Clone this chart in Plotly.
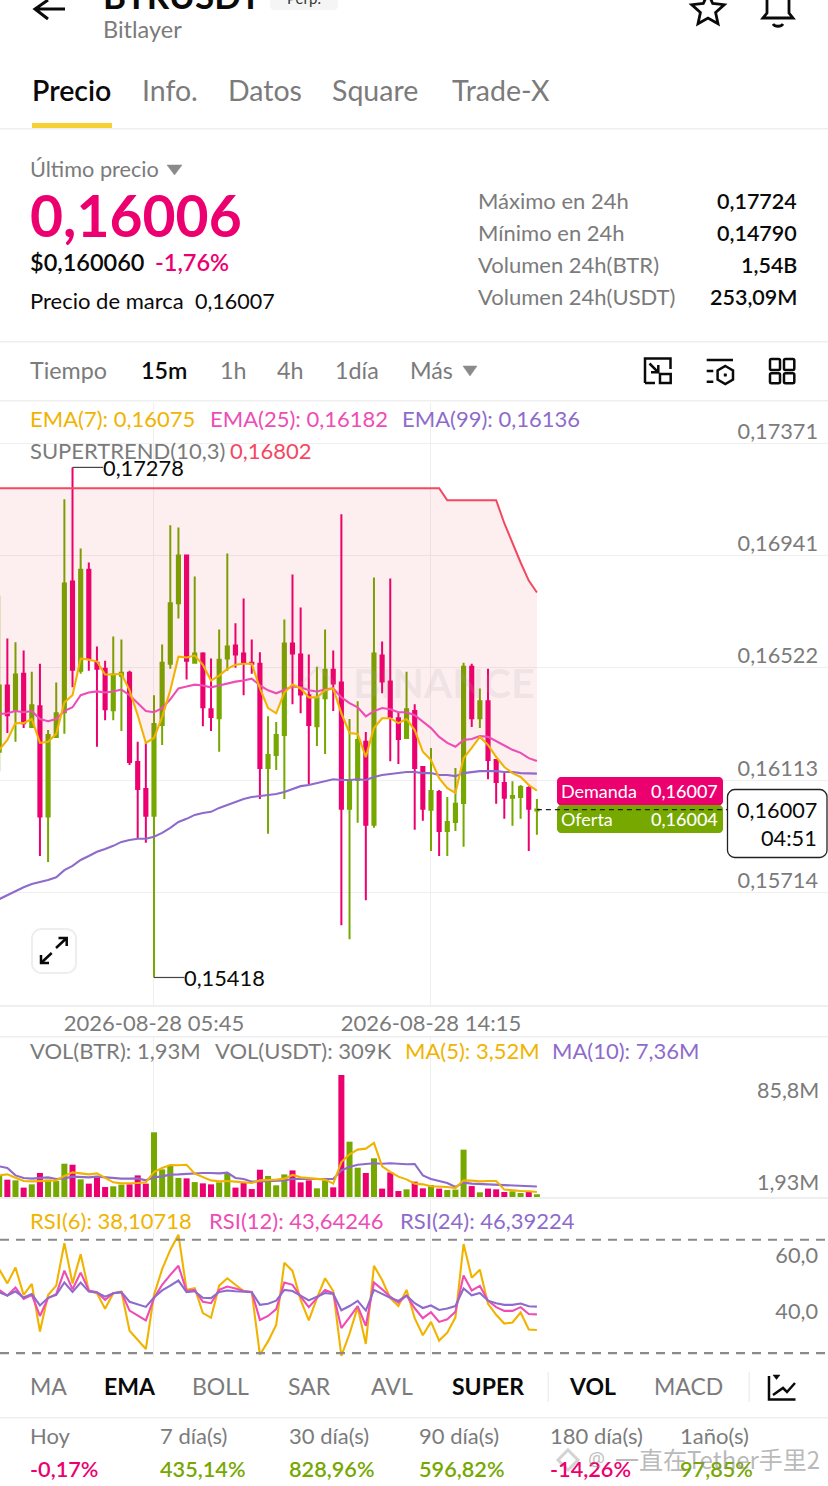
import re
import pandas as pd
import plotly.graph_objects as go

W, H = 828, 1486
FONT = "Lato"
PINK, GREEN = "#EC0070", "#76A800"
YEL, MAG, PUR = "#F0B400", "#EE4DB5", "#8E6BCB"
GRAY, BLK, RULE = "#7B7B7B", "#0A0A0A", "#EFEFEF"
RED = "#F5475F"

opens = [.16215,.16457,.16366,.16500,.16305,.16381,.15982,.16269,.16359,.16843,.16511,.16888,.16541,.16518,.16366,.16493,.16504,.16178,.16081,.15985,.16312,.16537,.16762,.16941,.16541,.16575,.16370,.16337,.16556,.16604,.16575,.16541,.16537,.16156,.16203,.16276,.16612,.16571,.16421,.16308,.16410,.16515,.16468,.16010,.16113,.16251,.15953,.16567,.16471,.16337,.16265,.16363,.16160,.16006,.16070,.15931,.15963,.16031,.16526,.16337,.16399,.16185,.16102,.16049,.16052,.16084,.16004]
highs = [.16791,.16630,.16616,.16586,.16507,.16537,.16294,.16468,.17156,.17278,.16968,.16915,.16601,.16548,.16638,.16627,.16511,.16251,.16247,.16421,.16608,.17056,.17048,.16945,.16862,.16579,.16556,.16664,.16949,.16687,.16780,.16627,.16579,.16344,.16323,.16701,.16870,.16746,.16571,.16526,.16664,.16586,.17098,.16334,.16399,.16287,.16858,.16619,.16855,.16359,.16507,.16388,.16163,.16229,.16077,.16052,.16156,.16541,.16537,.16446,.16518,.16185,.16138,.16109,.16095,.16091,.16045]
lows = [.16145,.16283,.16251,.16301,.16301,.15842,.15821,.16265,.16280,.16450,.16500,.16511,.16233,.16330,.16330,.16290,.16167,.15903,.15889,.15418,.16240,.16518,.16705,.16479,.16537,.16308,.16290,.16215,.16511,.16522,.16421,.16500,.16045,.15921,.16149,.16045,.16388,.16355,.16098,.16236,.16207,.16363,.15599,.15550,.15960,.15686,.15942,.16428,.16181,.16171,.16261,.15935,.15967,.15860,.15842,.15842,.15931,.15875,.16305,.16301,.16116,.16028,.15974,.15949,.15974,.15860,.15917]
closes = [.16457,.16348,.16497,.16319,.16384,.15982,.16276,.16355,.16836,.16515,.16888,.16556,.16518,.16370,.16497,.16504,.16178,.16081,.15985,.16316,.16541,.16762,.16941,.16548,.16575,.16377,.16341,.16552,.16601,.16571,.16541,.16537,.16156,.16203,.16276,.16612,.16575,.16424,.16312,.16410,.16515,.16464,.16010,.16113,.16258,.15953,.16575,.16471,.16341,.16261,.16370,.16156,.16010,.16074,.15931,.15963,.16028,.16526,.16337,.16399,.16185,.16106,.16049,.16056,.16088,.16010,.16007]
ema7 = [.16222,.16258,.16319,.16319,.16334,.16247,.16251,.16280,.16395,.16421,.16556,.16552,.16545,.16497,.16497,.16500,.16439,.16348,.16247,.16265,.16341,.16439,.16563,.16560,.16567,.16533,.16475,.16493,.16518,.16533,.16537,.16537,.16446,.16374,.16355,.16431,.16460,.16446,.16413,.16413,.16439,.16446,.16355,.16283,.16280,.16196,.16301,.16337,.16337,.16319,.16334,.16294,.16215,.16185,.16120,.16084,.16067,.16192,.16229,.16269,.16240,.16196,.16160,.16138,.16124,.16095,.16075]
ema25 = [.16352,.16355,.16363,.16359,.16363,.16334,.16326,.16334,.16363,.16377,.16421,.16431,.16435,.16431,.16435,.16442,.16421,.16392,.16363,.16359,.16374,.16406,.16446,.16453,.16460,.16457,.16450,.16457,.16464,.16471,.16475,.16482,.16457,.16439,.16428,.16442,.16453,.16450,.16439,.16435,.16442,.16446,.16413,.16392,.16377,.16344,.16363,.16374,.16370,.16359,.16359,.16348,.16323,.16301,.16269,.16247,.16233,.16258,.16261,.16272,.16269,.16254,.16236,.16222,.16211,.16192,.16182]
ema99 = [.15690,.15704,.15718,.15732,.15743,.15750,.15757,.15767,.15792,.15807,.15828,.15842,.15857,.15867,.15878,.15892,.15899,.15903,.15903,.15910,.15924,.15942,.15963,.15974,.15988,.15995,.15999,.16013,.16024,.16035,.16045,.16052,.16056,.16059,.16063,.16070,.16081,.16091,.16095,.16102,.16109,.16116,.16113,.16113,.16116,.16113,.16124,.16131,.16135,.16138,.16142,.16142,.16138,.16138,.16131,.16131,.16127,.16138,.16142,.16145,.16145,.16145,.16142,.16142,.16138,.16138,.16136]
supertrend = [.17198,.17198,.17198,.17198,.17198,.17198,.17198,.17198,.17198,.17198,.17198,.17198,.17198,.17198,.17198,.17198,.17198,.17198,.17198,.17198,.17198,.17198,.17198,.17198,.17198,.17198,.17198,.17198,.17198,.17198,.17198,.17198,.17198,.17198,.17198,.17198,.17198,.17198,.17198,.17198,.17198,.17198,.17198,.17198,.17198,.17198,.17198,.17198,.17198,.17198,.17198,.17198,.17198,.17198,.17198,.17152,.17152,.17152,.17152,.17152,.17152,.17152,.17064,.16987,.16915,.16847,.16802]
volume = [14.8,12.2,11.7,6.6,8.9,16.9,12.2,11.2,23.4,22.7,12.4,9.4,14.8,7.0,7.5,8.7,8.9,15.2,9.4,45.5,19.4,22.0,13.4,13.1,10.5,9.6,8.9,10.3,16.4,6.6,9.8,5.6,19.2,14.8,8.2,15.9,18.7,10.3,11.7,6.1,11.7,6.8,85.8,38.9,20.6,16.9,27.2,5.9,17.3,4.2,5.4,10.8,6.1,8.4,5.9,4.9,5.2,33.3,7.7,3.3,5.9,5.4,3.5,4.0,2.8,3.5,1.93]
ma5 = [15.2,15.9,13.6,11.2,11.0,11.2,11.7,11.7,14.8,17.3,16.6,15.9,16.6,13.4,10.3,9.6,9.6,9.8,10.3,17.6,20.4,22.5,22.3,22.7,16.4,14.1,11.7,11.0,11.2,10.8,10.3,9.8,11.7,11.7,12.2,12.9,15.5,13.8,13.1,12.9,12.2,9.4,24.6,30.0,33.3,34.0,38.0,21.6,17.6,14.3,12.4,9.4,8.9,7.5,7.5,7.0,6.3,11.7,11.5,11.0,11.2,11.2,5.2,4.5,4.2,4.0,3.52]
ma10 = [21.6,20.4,15.2,13.4,12.9,13.1,13.8,12.7,13.1,14.3,14.1,13.8,14.3,13.8,13.4,12.9,12.9,13.1,11.7,13.8,14.5,15.7,15.9,16.4,16.6,16.9,16.9,16.6,17.1,13.4,12.7,10.8,11.0,11.2,11.2,11.7,12.7,12.7,12.2,12.2,12.2,12.7,18.7,21.1,22.7,23.0,23.7,23.4,23.7,23.4,23.0,23.2,15.2,12.7,11.0,9.8,7.0,10.1,9.4,9.1,8.9,8.4,8.2,8.0,7.5,7.5,7.36]
rsi6 = [59.6,54.6,60.2,50.5,54.4,37.6,50.5,53.8,68.8,54.6,64.9,51.9,51.1,45.6,51.1,51.7,37.9,34.6,31.4,50.5,59.6,66.4,71.8,52.3,52.9,44.1,42.5,53.8,56.4,54.1,51.9,51.5,29.4,34.1,39.9,61.9,59.0,48.8,41.5,49.4,56.4,51.9,29.0,36.8,46.2,33.2,60.8,55.8,49.4,46.6,52.3,42.3,36.3,41.0,34.4,37.2,42.6,68.5,56.6,59.4,47.4,43.5,40.4,40.8,44.3,38.3,38.11]
rsi12 = [52.3,50.3,53.1,49.1,50.5,43.1,49.4,50.8,59.1,52.5,58.4,52.1,51.5,48.8,51.1,51.5,45.0,43.2,41.5,49.4,54.1,57.6,60.8,51.9,52.3,48.1,47.6,52.3,53.5,52.8,51.9,51.6,41.7,43.1,45.5,54.9,54.1,49.9,46.2,49.4,52.3,51.1,38.8,42.6,46.6,39.6,54.9,52.5,49.9,47.8,50.3,45.8,42.3,44.4,41.0,41.9,44.6,57.4,52.1,53.7,48.5,46.2,44.9,44.9,46.2,43.8,43.65]
rsi24 = [51.4,50.3,51.8,49.6,50.8,46.8,49.5,50.5,54.9,51.6,54.9,51.7,51.4,49.9,51.1,51.5,48.1,47.1,46.3,49.6,52.1,53.8,55.6,51.5,51.8,49.5,49.4,51.6,52.1,51.8,51.6,51.5,47.0,47.4,48.5,52.3,51.9,50.3,48.6,49.9,51.2,50.9,45.1,46.6,48.4,45.0,52.3,50.9,49.5,48.4,50.3,47.6,45.9,46.8,45.2,45.7,46.6,52.8,50.4,51.2,48.5,47.6,47.0,47.0,47.5,46.5,46.39]

price_ticks = [0.17371, 0.16941, 0.16522, 0.16113, 0.15714]
price_labels = ["0,17371", "0,16941", "0,16522", "0,16113", "0,15714"]
time_ticks = ["2026-08-28 05:45", "2026-08-28 14:15"]
rsi_ticks = [60, 40]
rsi_labels = ["60,0", "40,0"]
last_price = 0.16007
high_label, low_label = 0.17278, 0.15418

times = pd.date_range("2026-08-28 01:00", periods=len(opens), freq="15min")
STEP = 8.147


def x_at(px):
    return pd.Timestamp("2026-08-28 01:00") + pd.Timedelta(minutes=(px + 0.8) / STEP * 15)


def fx(v):
    return v / W


def fy(v):
    return 1 - v / H


shapes, annos = [], []


def T(x, y, s, size=22, color=GRAY, anchor="left", weight=400, family=FONT):
    if anchor == "left":
        x -= 1.5
    elif anchor == "right":
        x += 1
    annos.append(dict(xref="paper", yref="paper", x=fx(x), y=fy(y - 1.3), text=s, showarrow=False,
                      xanchor=anchor, yanchor="middle", borderpad=0, align=anchor,
                      font=dict(size=size, color=color, family=family, weight=weight)))


def R(x0, y0, x1, y1, fill="rgba(0,0,0,0)", line=None, lw=1):
    shapes.append(dict(type="rect", xref="paper", yref="paper", x0=fx(x0), y0=fy(y0), x1=fx(x1), y1=fy(y1),
                       fillcolor=fill, line=dict(color=line or "rgba(0,0,0,0)", width=lw if line else 0),
                       layer="above"))


def P(d, color=BLK, lw=2.5, fill="rgba(0,0,0,0)"):
    toks = re.findall(r"[MLCZ]|-?\d+\.?\d*", d)
    out, is_x = [], True
    for t in toks:
        if t in "MLCZ":
            out.append(t)
            is_x = True
        else:
            out.append(f"{fx(float(t)):.5f}" if is_x else f"{fy(float(t)):.5f}")
            is_x = not is_x
    shapes.append(dict(type="path", xref="paper", yref="paper", path=" ".join(out), fillcolor=fill,
                       line=dict(color=color, width=lw), layer="above"))


def RR(x0, y0, x1, y1, r, fill="rgba(0,0,0,0)", line=None, lw=1):
    d = (f"M {x0+r} {y0} L {x1-r} {y0} C {x1-r/2} {y0} {x1} {y0+r/2} {x1} {y0+r} L {x1} {y1-r} "
         f"C {x1} {y1-r/2} {x1-r/2} {y1} {x1-r} {y1} L {x0+r} {y1} C {x0+r/2} {y1} {x0} {y1-r/2} {x0} {y1-r} "
         f"L {x0} {y0+r} C {x0} {y0+r/2} {x0+r/2} {y0} {x0+r} {y0} Z")
    P(d, color=line or "rgba(0,0,0,0)", lw=lw if line else 0, fill=fill)


# ---------------- header and top panels
P("M 48 0 L 35 9 L 48 19 M 35 9 L 65 9", lw=3)
T(103, -3.5, "BTRUSDT", 35, BLK, weight=700)
RR(270, -12, 338, 10, 4, fill="#F5F5F5")
T(304, -1, "Perp.", 15, "#333", anchor="center")
T(103, 30, "Bitlayer", 23.5)
P("M 708 -7 L 712.7 3.5 L 724.2 4.7 L 715.6 12.5 L 718 23.8 L 708 18 L 698 23.8 L 700.4 12.5 L 691.8 4.7 L 703.3 3.5 Z", lw=2.8)
P("M 763 18 L 767 13 L 767 0 C 767 -8 789 -8 789 0 L 789 13 L 793 18 Z M 773 24 C 775 27 781 27 783 24", lw=2.8)
for x, s, c, wt in [(32, "Precio", BLK, 600), (142, "Info.", GRAY, 400), (228, "Datos", GRAY, 400),
                    (332, "Square", GRAY, 400), (452, "Trade-X", GRAY, 400)]:
    T(x, 91, s, 28.5, c, weight=wt)
R(32, 123, 112, 128, fill="#F7D033")
R(0, 128, W, 129.5, fill=RULE)

T(30, 170, "Último precio", 21.7)
P("M 167 165 L 182 165 L 174.5 175 Z", color="#8A8A8A", lw=0.5, fill="#8A8A8A")
T(30, 216, "0,16006", 57, PINK, weight=700)
T(30, 263, "$0,160060", 23.5, BLK, weight=600)
T(155, 263, "-1,76%", 23.5, PINK, weight=600)
T(30, 302, "Precio de marca", 22, BLK)
T(195, 302, "0,16007", 21.5, BLK)
for y, a, b in [(202, "Máximo en 24h", "0,17724"), (234, "Mínimo en 24h", "0,14790"),
                (266, "Volumen 24h(BTR)", "1,54B"), (298, "Volumen 24h(USDT)", "253,09M")]:
    T(478, y, a, 22)
    T(797, y, b, 21.5, BLK, anchor="right", weight=600)
R(0, 341, W, 342.5, fill=RULE)

# ---------------- interval row
for x, s, c, wt in [(30, "Tiempo", GRAY, 400), (141, "15m", BLK, 600), (220, "1h", GRAY, 400),
                    (277, "4h", GRAY, 400), (335, "1día", GRAY, 400), (410, "Más", GRAY, 400)]:
    T(x, 371, s, 23.3, c, weight=wt)
P("M 463 366 L 477 366 L 470 376 Z", color="#8A8A8A", lw=0.5, fill="#8A8A8A")
P("M 645 383 L 645 358.5 L 670.5 358.5 L 670.5 369 M 645 383 L 655 383 M 660 374 L 670.7 374 L 670.7 383 L 660 383 Z "
  "M 649.5 363.5 L 658.3 372.3 M 658.3 365 L 658.3 372.3 L 651 372.3", lw=2.5)
P("M 706.7 360 L 733 360 M 706.7 371 L 713.3 371 M 706.7 381.7 L 713.3 381.7 "
  "M 725.3 366 L 733 370.5 L 733 379.5 L 725.3 384 L 717.6 379.5 L 717.6 370.5 Z", lw=2.5)
P("M 723.8 375 L 726.8 375 M 725.3 373.5 L 725.3 376.5", lw=2.5)
for a, b, c, d in [(770, 359, 780, 370), (784, 359, 794.3, 370), (770, 373.3, 780, 383.3), (784, 373.3, 794.3, 383.3)]:
    RR(a, b, c, d, 1.5, line=BLK, lw=2.5)
R(0, 400, W, 401.5, fill=RULE)

# ---------------- legends
T(30, 420, "EMA(7): 0,16075", 22, YEL)
T(210, 420, "EMA(25): 0,16182", 22, MAG)
T(402, 420, "EMA(99): 0,16136", 22, PUR)
T(30, 452, "SUPERTREND(10,3)", 22)
T(230, 452, "0,16802", 22, RED)
T(30, 1052, "VOL(BTR): 1,93M", 22)
T(215, 1052, "VOL(USDT): 309K", 22)
T(405, 1052, "MA(5): 3,52M", 22, YEL)
T(552, 1052, "MA(10): 7,36M", 22, PUR)
T(30, 1222, "RSI(6): 38,10718", 22, YEL)
T(209, 1222, "RSI(12): 43,64246", 22, MAG)
T(400, 1222, "RSI(24): 46,39224", 22, PUR)

# ---------------- chart watermark and overlays
annos.append(dict(xref="paper", yref="paper", x=fx(351), y=fy(682), text="BINANCE", showarrow=False, xanchor="left",
                  yanchor="middle", font=dict(size=41, color="rgba(170,170,170,0.16)", family=FONT, weight=700)))
P("M 318 667 L 334 683 L 318 699 L 302 683 Z", color="rgba(170,170,170,0.14)", lw=3)
RR(32, 929, 76, 973, 9, fill="#FFFFFF", line="#EEEEEE", lw=2)
P("M 56 948 L 66.7 938 M 58.5 938 L 66.7 938 L 66.7 946 M 51.7 953 L 41 963 M 41 955 L 41 963 L 49 963", lw=2.5)

RR(557, 777, 723, 805.5, 4, fill=PINK)
RR(557, 805, 723, 833, 4, fill=GREEN)
T(561, 792.5, "Demanda", 18, "#FFFFFF")
T(718, 792.5, "0,16007", 18, "#FFFFFF", anchor="right", weight=500)
T(561, 820.5, "Oferta", 18, "#FFFFFF")
T(718, 820.5, "0,16004", 18, "#FFFFFF", anchor="right", weight=500)
shapes.append(dict(type="line", xref="x", yref="y", x0=times[-1], x1=x_at(727), y0=last_price, y1=last_price,
                   line=dict(color="#222", width=1.2, dash="5px,4px"), layer="above"))
RR(727.5, 789.5, 827, 857.5, 7, fill="#FFFFFF", line="#222", lw=1.3)
T(817, 811, "0,16007", 21.7, BLK, anchor="right")
T(817, 839, "04:51", 21.7, BLK, anchor="right")

# ---------------- vol pane labels
annos.append(dict(xref="paper", yref="y2", x=fx(821), y=85.8, yshift=-15, text="85,8M", showarrow=False,
                  xanchor="right", font=dict(size=21.5, color=GRAY, family=FONT)))
annos.append(dict(xref="paper", yref="y2", x=fx(821), y=1.93, yshift=12, text="1,93M", showarrow=False,
                  xanchor="right", font=dict(size=21.5, color=GRAY, family=FONT)))

# ---------------- high and low callout labels
for idx, val, txt in [(highs.index(high_label), high_label, "0,17278"), (lows.index(low_label), low_label, "0,15418")]:
    import math
    annos.append(dict(xref="x", yref="y", x=times[idx] + pd.Timedelta(minutes=56), y=math.log10(val), text=txt,
                      showarrow=False, xanchor="left", yanchor="middle", xshift=-1, borderpad=0,
                      font=dict(size=21.8, color=BLK, family=FONT)))

# ---------------- RSI guides
for lvl in (70, 30):
    shapes.append(dict(type="line", xref="paper", yref="y3", x0=0, x1=1, y0=lvl, y1=lvl,
                       line=dict(color="#8A8A8A", width=2.2, dash="9px,7px"), layer="above"))

# ---------------- indicator buttons
for x, s, c, wt in [(30, "MA", GRAY, 400), (104, "EMA", BLK, 700), (192, "BOLL", GRAY, 400), (288, "SAR", GRAY, 400),
                    (371, "AVL", GRAY, 400), (452, "SUPER", BLK, 700), (569, "VOL", BLK, 700), (654, "MACD", GRAY, 400)]:
    T(x, 1387, s, 23, c, weight=wt)
R(547.5, 1372, 549, 1402, fill=RULE)
R(748.5, 1372, 750, 1402, fill=RULE)
P("M 769 1376 L 769 1399.5 L 795.5 1399.5 M 773 1395 L 783 1388 L 787 1392 L 795 1383", lw=2.5)
P("M 773 1375 L 780 1375 L 776.5 1379.5 Z", lw=0.5, fill=BLK)
R(0, 1417, W, 1418.5, fill=RULE)
R(0, 1036, W, 1037.5, fill=RULE)

# ---------------- returns row
for x, a, b, c in [(30, "Hoy", "-0,17%", PINK), (160, "7 día(s)", "435,14%", GREEN), (289, "30 día(s)", "828,96%", GREEN),
                   (419, "90 día(s)", "596,82%", GREEN), (550, "180 día(s)", "-14,26%", PINK), (680, "1año(s)", "97,85%", GREEN)]:
    T(x, 1437, a, 22)
    T(x, 1470, b, 21.7, c, weight=600)
P("M 568 1450 L 578 1460 L 568 1470 L 558 1460 Z", color="rgba(175,175,175,0.55)", lw=3)
T(588, 1460, "@", 19, "rgba(150,150,150,0.6)", family="Noto Sans")
T(615, 1460, "一直在Tether手里2", 24, "rgba(140,140,140,0.62)", family="Noto Sans CJK SC")

# ---------------- traces
fig = go.Figure()
colors = [GREEN if c >= o else PINK for o, c in zip(opens, closes)]
fig.add_trace(go.Candlestick(x=times, open=opens, high=highs, low=lows, close=closes, xaxis="x", yaxis="y",
                             increasing=dict(line=dict(color=GREEN, width=2), fillcolor=GREEN),
                             decreasing=dict(line=dict(color=PINK, width=2), fillcolor=PINK),
                             whiskerwidth=0, showlegend=False, hoverinfo="skip"))
fig.add_trace(go.Scatter(x=times, y=ema7, mode="lines", line=dict(width=0, color="rgba(0,0,0,0)"), xaxis="x", yaxis="y",
                         showlegend=False, hoverinfo="skip"))
fig.add_trace(go.Scatter(x=times, y=supertrend, mode="lines", line=dict(width=2, color=RED), fill="tonexty",
                         fillcolor="rgba(232,40,70,0.08)", xaxis="x", yaxis="y", showlegend=False, hoverinfo="skip"))
for s, c in [(ema99, PUR), (ema25, MAG), (ema7, YEL)]:
    fig.add_trace(go.Scatter(x=times, y=s, mode="lines", line=dict(width=2.1, color=c), xaxis="x", yaxis="y",
                             showlegend=False, hoverinfo="skip"))

# high and low callout leader lines
for idx, val in [(highs.index(high_label), high_label), (lows.index(low_label), low_label)]:
    fig.add_trace(go.Scatter(x=[times[idx], times[idx] + pd.Timedelta(minutes=56)], y=[val, val], mode="lines",
                             line=dict(width=1.2, color="#444"), xaxis="x", yaxis="y", showlegend=False,
                             hoverinfo="skip", cliponaxis=False))

fig.add_trace(go.Bar(x=times, y=volume, marker=dict(color=colors, line=dict(width=0)), xaxis="x2", yaxis="y2",
                     showlegend=False, hoverinfo="skip"))
for s, c in [(ma10, PUR), (ma5, YEL)]:
    fig.add_trace(go.Scatter(x=times, y=s, mode="lines", line=dict(width=2.1, color=c), xaxis="x2", yaxis="y2",
                             showlegend=False, hoverinfo="skip"))
for s, c in [(rsi6, YEL), (rsi12, MAG), (rsi24, PUR)]:
    fig.add_trace(go.Scatter(x=times, y=s, mode="lines", line=dict(width=2.1, color=c), xaxis="x3", yaxis="y3",
                             showlegend=False, hoverinfo="skip", cliponaxis=False))

x_rng = [x_at(0), x_at(W)]
xcommon = dict(range=x_rng, type="date", tickmode="array", tickvals=time_ticks, showgrid=True, gridcolor=RULE,
               gridwidth=1, zeroline=False, ticks="", rangeslider=dict(visible=False))

fig.update_layout(
    width=W, height=H, margin=dict(l=0, r=0, t=0, b=0), autosize=False,
    paper_bgcolor="#FFFFFF", plot_bgcolor="#FFFFFF", hovermode=False, bargap=0.26, boxgap=0.45, showlegend=False,
    font=dict(family=FONT),
    xaxis=dict(**xcommon, domain=[0, 1], anchor="y", tickformat="%Y-%m-%d %H:%M", showticklabels=True,
               tickfont=dict(size=22, color=GRAY, family=FONT), showline=True, linecolor=RULE, linewidth=1.5,
               ticklabelstandoff=-2),
    yaxis=dict(type="log", domain=[fy(1005), fy(403)], range=[-0.81464, -0.75626], side="right", anchor="x",
               tickmode="array", tickvals=price_ticks, ticktext=price_labels, ticklabelposition="inside",
               ticklabelshift=-12, ticklabelstandoff=7, tickfont=dict(size=21.7, color=GRAY, family=FONT),
               showgrid=True, gridcolor=RULE, gridwidth=1, zeroline=False, ticks=""),
    xaxis2=dict(**xcommon, domain=[0, 1], anchor="y2", showticklabels=False, showline=True, linecolor=RULE, linewidth=1.5),
    yaxis2=dict(domain=[fy(1197), fy(1037)], range=[0, 112.5], side="right", anchor="x2", showgrid=False,
                showticklabels=False, zeroline=False, ticks=""),
    xaxis3=dict(**xcommon, domain=[0, 1], anchor="y3", showticklabels=False, showline=False),
    yaxis3=dict(domain=[fy(1357), fy(1197)], range=[28.6, 85.1], side="right", anchor="x3", tickmode="array",
                tickvals=rsi_ticks, ticktext=rsi_labels, ticklabelposition="inside", ticklabelshift=-13,
                ticklabelstandoff=7, tickfont=dict(size=21.7, color=GRAY, family=FONT), showgrid=False,
                zeroline=False, ticks=""),
    shapes=shapes, annotations=annos,
)

fig.write_html("out.html", config=dict(displayModeBar=False, staticPlot=True),
               post_script="document.body.style.margin='0';document.body.style.overflow='hidden';")
